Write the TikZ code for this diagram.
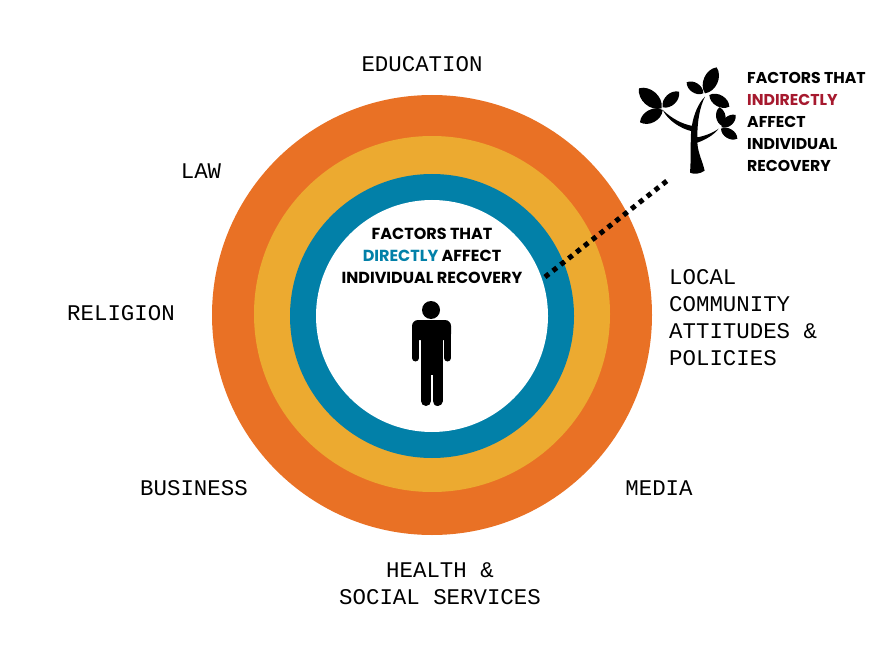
\documentclass[tikz,border=0pt]{standalone}
\usepackage{fontspec}
\setmainfont{Poppins}
\setmonofont{Liberation Mono}
\definecolor{ringorange}{HTML}{E97125}
\definecolor{ringyellow}{HTML}{ECAA30}
\definecolor{ringblue}{HTML}{0280A8}
\definecolor{wordred}{HTML}{A6192E}
\tikzset{
  factor/.style={font=\ttfamily\fontsize{22.4}{27}\selectfont,align=center,inner sep=0pt},
  heading/.style={font=\bfseries\fontsize{16}{22}\selectfont,inner sep=0pt},
  leaf/.style={fill=black,draw=none}
}
\newcommand{\leaf}[2]{\fill[leaf] (#1) to[bend left=58] (#2) to[bend left=58] (#1);}
\begin{document}
\begin{tikzpicture}[x=1pt,y=-1pt]
  \useasboundingbox (0,0) rectangle (891,652);
  % rings
  \fill[ringorange] (432,315) circle (220);
  \fill[ringyellow] (432,314) circle (178);
  \fill[ringblue] (432,316) circle (142);
  \fill[white] (432,316) circle (116);

  % outer labels
  \node[factor] (education) at (422,64.5) {EDUCATION};
  \node[factor] (law) at (201,171) {LAW};
  \node[factor] (religion) at (121,313) {RELIGION};
  \node[factor] (business) at (194,488) {BUSINESS};
  \node[factor] (health) at (440,584) {HEALTH \&\\SOCIAL SERVICES};
  \node[factor] (media) at (659,488) {MEDIA};
  \node[factor,align=left,anchor=west] (local) at (669,317.5) {LOCAL\\COMMUNITY\\ATTITUDES \&\\POLICIES};

  % headings
  \node[heading,align=center] (direct) at (432,256) {FACTORS THAT\\{\color{ringblue}DIRECTLY} AFFECT\\INDIVIDUAL RECOVERY};
  \node[heading,align=left,anchor=west,font=\bfseries\fontsize{15.7}{22}\selectfont] (indirect) at (747,122) {FACTORS THAT\\{\color{wordred}INDIRECTLY}\\AFFECT\\INDIVIDUAL\\RECOVERY};

  % dotted pointer
  \coordinate (pointerA) at (545,277);
  \coordinate (pointerB) at (668,180);
  \draw[line width=5pt,dash pattern=on 5pt off 5pt] (pointerA) -- (pointerB);

  % person
  \fill (431,310) circle (9);
  \fill[rounded corners=6pt] (412,340) -- (412,320) -- (451,320) -- (451,340) -- cycle;
  \fill (421,330) rectangle (442.5,375);
  \draw[line width=10pt,line cap=round] (426,360) -- (426,401) (437.5,360) -- (437.5,401);
  \draw[line width=7pt,line cap=round] (415.5,330) -- (415.5,358) (447.5,330) -- (447.5,358);

  % tree
  \begin{scope}[shift={(620,50)},x=.3333pt,y=-.3333pt]
    \leaf{125,175}{57,115}
    \leaf{128,172}{177,125}
    \leaf{128,180}{60,217}
    \leaf{255,130}{290,52}
    \leaf{250,130}{200,97}
    \leaf{268,135}{328,170}
    \leaf{307,228}{298,172}
    \leaf{305,232}{347,195}
    \leaf{303,236}{352,266}
    \fill (210,368) .. controls (214,320) and (210,260) .. (215,230)
      .. controls (222,190) and (235,160) .. (255,140)
      .. controls (240,170) and (232,210) .. (232,262)
      .. controls (255,258) and (280,248) .. (296,236)
      .. controls (282,255) and (255,270) .. (232,278)
      .. controls (234,310) and (248,335) .. (254,362)
      .. controls (240,372) and (222,374) .. (210,368) -- cycle;
    \fill (128,180) .. controls (155,205) and (185,222) .. (218,228)
      -- (216,244) .. controls (180,235) and (145,212) .. (128,180) -- cycle;
  \end{scope}
\end{tikzpicture}
\end{document}
